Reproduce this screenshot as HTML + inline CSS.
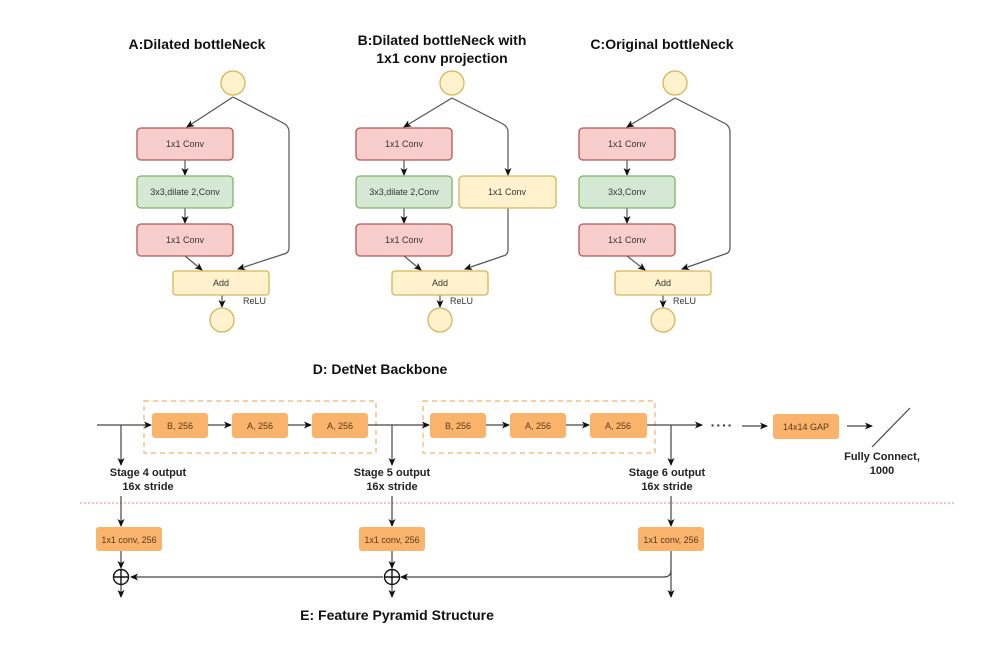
<!DOCTYPE html>
<html><head><meta charset="utf-8"><style>body{margin:0;background:#fff}svg{display:block}</style></head><body>
<svg width="997" height="657" viewBox="0 0 997 657" xmlns="http://www.w3.org/2000/svg" font-family="Liberation Sans, Arial, sans-serif">
<defs><marker id="a" markerWidth="8" markerHeight="8" refX="7" refY="4" orient="auto" markerUnits="userSpaceOnUse"><path d="M0,0.5 L8,4 L0,7.5 L2,4 Z" fill="#111"/></marker></defs>
<rect width="997" height="657" fill="#fff"/>
<g font-weight="bold" font-size="14" fill="#111" text-anchor="middle">
<text x="197" y="49">A:Dilated bottleNeck</text>
<text x="442" y="45">B:Dilated bottleNeck with</text>
<text x="442" y="63">1x1 conv projection</text>
<text x="662" y="49">C:Original bottleNeck</text>
<text x="380" y="374">D: DetNet Backbone</text>
<text x="397" y="620">E: Feature Pyramid Structure</text>
</g>
<g stroke="#555" stroke-width="1.2" fill="none">
<!-- A -->
<path d="M233,97 L187,127" marker-end="url(#a)"/><path d="M233,97 L285,124 Q289,127 289,132 L289,248 Q289,253 284,254 L238,269" marker-end="url(#a)"/>
<path d="M185,160 L185,175" marker-end="url(#a)"/><path d="M185,208 L185,223" marker-end="url(#a)"/>
<path d="M185,256 L202,270" marker-end="url(#a)"/><path d="M222,295 L222,307" marker-end="url(#a)"/>
<!-- B -->
<path d="M452,98 L404,127" marker-end="url(#a)"/><path d="M452,98 L503,124 Q508,127 508,132 L508,175" marker-end="url(#a)"/>
<path d="M404,160 L404,175" marker-end="url(#a)"/><path d="M404,208 L404,223" marker-end="url(#a)"/>
<path d="M404,256 L421,270" marker-end="url(#a)"/><path d="M508,208 L508,250 Q508,255 503,256 L465,269" marker-end="url(#a)"/>
<path d="M440,295 L440,307" marker-end="url(#a)"/>
<!-- C -->
<path d="M675,98 L627,127" marker-end="url(#a)"/><path d="M675,98 L726,124 Q730,127 730,132 L730,248 Q730,253 725,254 L682,269" marker-end="url(#a)"/>
<path d="M627,160 L627,175" marker-end="url(#a)"/><path d="M627,208 L627,223" marker-end="url(#a)"/>
<path d="M627,256 L645,270" marker-end="url(#a)"/><path d="M663,295 L663,307" marker-end="url(#a)"/>
</g>
<g stroke-width="1.3">
<circle cx="233" cy="83" r="12" fill="#fff2cc" stroke="#d6b656"/><circle cx="222" cy="320" r="12" fill="#fff2cc" stroke="#d6b656"/>
<circle cx="452" cy="83" r="12" fill="#fff2cc" stroke="#d6b656"/><circle cx="440" cy="320" r="12" fill="#fff2cc" stroke="#d6b656"/>
<circle cx="675" cy="83" r="12" fill="#fff2cc" stroke="#d6b656"/><circle cx="663" cy="320" r="12" fill="#fff2cc" stroke="#d6b656"/>
<rect x="137" y="128" width="96" height="32" rx="4" fill="#f8cecc" stroke="#b85450"/>
<rect x="137" y="176" width="96" height="32" rx="4" fill="#d5e8d4" stroke="#82b366"/>
<rect x="137" y="224" width="96" height="32" rx="4" fill="#f8cecc" stroke="#b85450"/>
<rect x="173" y="271" width="96" height="24" rx="3" fill="#fff2cc" stroke="#d6b656"/>
<rect x="356" y="128" width="96" height="32" rx="4" fill="#f8cecc" stroke="#b85450"/>
<rect x="356" y="176" width="96" height="32" rx="4" fill="#d5e8d4" stroke="#82b366"/>
<rect x="356" y="224" width="96" height="32" rx="4" fill="#f8cecc" stroke="#b85450"/>
<rect x="459" y="176" width="97" height="32" rx="4" fill="#fff2cc" stroke="#d6b656"/>
<rect x="392" y="271" width="96" height="24" rx="3" fill="#fff2cc" stroke="#d6b656"/>
<rect x="579" y="128" width="96" height="32" rx="4" fill="#f8cecc" stroke="#b85450"/>
<rect x="579" y="176" width="96" height="32" rx="4" fill="#d5e8d4" stroke="#82b366"/>
<rect x="579" y="224" width="96" height="32" rx="4" fill="#f8cecc" stroke="#b85450"/>
<rect x="615" y="271" width="96" height="24" rx="3" fill="#fff2cc" stroke="#d6b656"/>
</g>
<g font-size="9" fill="#333" text-anchor="middle">
<text x="185" y="147">1x1 Conv</text><text x="185" y="195">3x3,dilate 2,Conv</text><text x="185" y="243">1x1 Conv</text><text x="221" y="286">Add</text>
<text x="404" y="147">1x1 Conv</text><text x="404" y="195">3x3,dilate 2,Conv</text><text x="404" y="243">1x1 Conv</text><text x="507" y="195">1x1 Conv</text><text x="440" y="286">Add</text>
<text x="627" y="147">1x1 Conv</text><text x="627" y="195">3x3,Conv</text><text x="627" y="243">1x1 Conv</text><text x="663" y="286">Add</text>
<text x="243" y="304" text-anchor="start">ReLU</text><text x="450" y="304" text-anchor="start">ReLU</text><text x="673" y="304" text-anchor="start">ReLU</text>
</g>
<!-- backbone -->
<g fill="none" stroke="#f5b26b" stroke-width="1.2" stroke-dasharray="5,4">
<rect x="144" y="401" width="232" height="52"/><rect x="423" y="401" width="232" height="52"/>
</g>
<line x1="80" y1="503" x2="955" y2="503" stroke="#f08080" stroke-width="1" stroke-dasharray="2,2"/>
<g stroke="#444" stroke-width="1.2" fill="none">
<path d="M97,425 L151,425" marker-end="url(#a)"/><path d="M121,425 L121,465" marker-end="url(#a)"/>
<path d="M208,425 L231,425" marker-end="url(#a)"/><path d="M288,425 L311,425" marker-end="url(#a)"/>
<path d="M368,425 L429,425" marker-end="url(#a)"/><path d="M392,425 L392,465" marker-end="url(#a)"/>
<path d="M486,425 L509,425" marker-end="url(#a)"/><path d="M566,425 L589,425" marker-end="url(#a)"/>
<path d="M646,425 L702,425" marker-end="url(#a)"/><path d="M671,425 L671,465" marker-end="url(#a)"/>
<path d="M742,426 L767,426" marker-end="url(#a)"/><path d="M847,426 L872,426" marker-end="url(#a)"/>
<path d="M872,447 L910,408"/>
<path d="M121,496 L121,526" marker-end="url(#a)"/><path d="M392,496 L392,526" marker-end="url(#a)"/><path d="M671,496 L671,526" marker-end="url(#a)"/>
<path d="M121,551 L121,568" marker-end="url(#a)"/><path d="M392,551 L392,568" marker-end="url(#a)"/>
<path d="M671,551 L671,597" marker-end="url(#a)"/><path d="M671,570 Q671,577 664,577 L401,577" marker-end="url(#a)"/>
<path d="M383,577 L131,577" marker-end="url(#a)"/>
<path d="M121,585 L121,597" marker-end="url(#a)"/><path d="M392,585 L392,597" marker-end="url(#a)"/>
</g>
<g stroke="#111" stroke-width="1.4" fill="#fff">
<circle cx="121" cy="577" r="7.5"/><circle cx="392" cy="577" r="7.5"/>
</g>
<path d="M113.5,577 H128.5 M121,569.5 V584.5 M384.5,577 H399.5 M392,569.5 V584.5" stroke="#111" stroke-width="1.4"/>
<text x="722" y="430" font-size="14" font-weight="bold" fill="#333" text-anchor="middle" letter-spacing="1">····</text>
<g fill="#f9b36b">
<rect x="152" y="413" width="56" height="25" rx="3"/><rect x="232" y="413" width="56" height="25" rx="3"/><rect x="312" y="413" width="56" height="25" rx="3"/>
<rect x="430" y="413" width="56" height="25" rx="3"/><rect x="510" y="413" width="56" height="25" rx="3"/><rect x="590" y="413" width="57" height="25" rx="3"/>
<rect x="773" y="414" width="66" height="25" rx="3"/>
<rect x="96" y="527" width="66" height="24" rx="3"/><rect x="359" y="527" width="66" height="24" rx="3"/><rect x="638" y="527" width="66" height="24" rx="3"/>
</g>
<g font-size="9" fill="#5a3a1a" text-anchor="middle">
<text x="180" y="429">B, 256</text><text x="260" y="429">A, 256</text><text x="340" y="429">A, 256</text>
<text x="458" y="429">B, 256</text><text x="538" y="429">A, 256</text><text x="618" y="429">A, 256</text>
<text x="806" y="430">14x14 GAP</text>
<text x="129" y="543">1x1 conv, 256</text><text x="392" y="543">1x1 conv, 256</text><text x="671" y="543">1x1 conv, 256</text>
</g>
<g font-size="11" font-weight="bold" fill="#222" text-anchor="middle">
<text x="148" y="476">Stage 4 output</text><text x="148" y="490">16x stride</text>
<text x="392" y="476">Stage 5 output</text><text x="392" y="490">16x stride</text>
<text x="667" y="476">Stage 6 output</text><text x="667" y="490">16x stride</text>
<text x="882" y="460">Fully Connect,</text><text x="882" y="474">1000</text>
</g>
</svg>
</body></html>
